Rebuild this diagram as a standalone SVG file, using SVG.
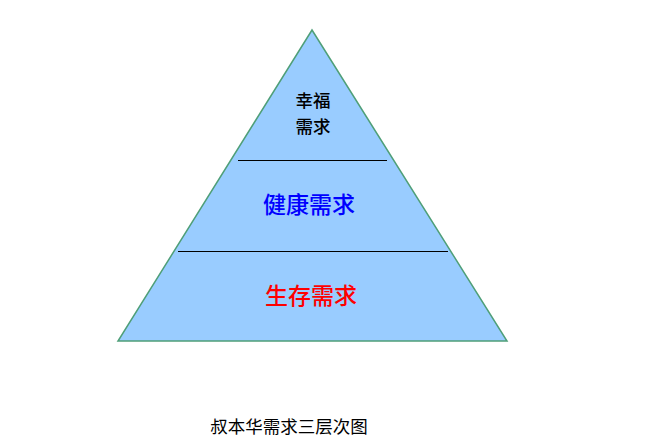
<svg xmlns="http://www.w3.org/2000/svg" width="672" height="446" viewBox="0 0 672 446">
<style>
.t{font-family:"Noto Sans CJK SC",sans-serif;text-anchor:middle}
.sep{stroke:#000;stroke-width:1}
</style>
<rect width="672" height="446" fill="#fff"/>
<g id="pyramid">
<polygon points="312,30 507,341 118,341" fill="#99CCFF" stroke="#4F9F78" stroke-width="1.5"/>
</g>
<g id="connectors">
<line class="sep" x1="238" y1="160.5" x2="387" y2="160.5"/>
<line class="sep" x1="178" y1="251.5" x2="448" y2="251.5"/>
</g>
<g id="top">
<text class="t" x="313" y="107" font-size="17.5" font-weight="500" fill="#000">幸福</text>
<text class="t" x="313" y="133" font-size="17.5" font-weight="500" fill="#000">需求</text>
</g>
<g id="middle">
<text class="t" x="309" y="213" font-size="23" font-weight="500" fill="#0000FF">健康需求</text>
</g>
<g id="bottom">
<text class="t" x="311" y="304" font-size="23" font-weight="500" fill="#FF0000">生存需求</text>
</g>
<g id="caption">
<text class="t" x="289" y="433" font-size="17.5" fill="#000">叔本华需求三层次图</text>
</g>
</svg>
